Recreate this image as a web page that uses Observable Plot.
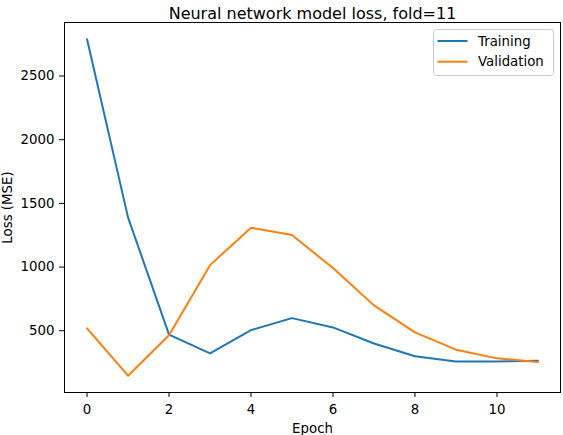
<!DOCTYPE html>
<html><head><meta charset="utf-8">
<script src="https://cdn.jsdelivr.net/npm/d3@7"></script>
<script src="https://cdn.jsdelivr.net/npm/@observablehq/plot@0.6"></script>
<style>
body{margin:0;background:#fff;}
#chart{position:relative;width:563px;height:435px;font-family:"DejaVu Sans",sans-serif;}
#legend{position:absolute;left:433px;top:29px;}
</style></head><body><div id="chart"></div>
<script>
const epochs = [0,1,2,3,4,5,6,7,8,9,10,11];
const training = [2788,1390,469,322,505,599,526,400,300,259,259,264];
const validation = [518,147,465,1015,1309,1251,992,699,487,351,283,254];
const seriesNames = ["Training","Validation"];
const seriesColors = ["#1f77b4","#ff7f0e"];
const xTicks = [0,2,4,6,8,10];
const yTicks = [500,1000,1500,2000,2500];
const titleText = "Neural network model loss, fold=11";
const xLabel = "Epoch";
const yLabel = "Loss (MSE)";

const rows = [];
epochs.forEach((e,i)=>{
  rows.push({epoch:e, loss:training[i], series:seriesNames[0]});
  rows.push({epoch:e, loss:validation[i], series:seriesNames[1]});
});
const all = training.concat(validation);
const lo = d3.min(all), hi = d3.max(all), pad = (hi-lo)*0.05;
const xlo = d3.min(epochs), xhi = d3.max(epochs), xpad = (xhi-xlo)*0.05;

const plot = Plot.plot({
  width:563, height:435, marginLeft:64, marginRight:3, marginTop:22, marginBottom:43,
  style:{fontFamily:"DejaVu Sans", fontSize:"13.33px", background:"white", color:"black", overflow:"visible"},
  x:{domain:[xlo-xpad, xhi+xpad], ticks:xTicks, tickFormat:d3.format("d"), label:xLabel, labelAnchor:"center", labelArrow:"none", tickSize:5, tickPadding:7, labelOffset:40},
  y:{domain:[lo-pad, hi+pad], ticks:yTicks, tickFormat:d3.format("d"), label:yLabel, labelAnchor:"center", labelArrow:"none", tickSize:5, tickPadding:5, labelOffset:62},
  color:{domain:seriesNames, range:seriesColors},
  marks:[
    Plot.line(rows, {x:"epoch", y:"loss", stroke:"series", strokeWidth:2}),
    Plot.frame({stroke:"black", strokeWidth:1}),
    Plot.text([titleText], {text:d=>d, frameAnchor:"top", dy:-15, fontSize:16})
  ]
});
const chart = document.getElementById("chart");
chart.appendChild(plot);

// legend
const lg = d3.select(chart).append("svg").attr("id","legend").attr("width",122).attr("height",48);
lg.append("rect").attr("x",0.5).attr("y",0.5).attr("width",120).attr("height",46).attr("rx",3)
  .attr("fill","rgba(255,255,255,0.8)").attr("stroke","#cccccc");
seriesNames.forEach((name,i)=>{
  const cy = 12 + i*20.7;
  lg.append("line").attr("x1",4.5).attr("x2",34.5).attr("y1",cy).attr("y2",cy)
    .attr("stroke",seriesColors[i]).attr("stroke-width",2);
  lg.append("text").attr("x",45).attr("y",cy).attr("dy","0.35em")
    .attr("font-family","DejaVu Sans").attr("font-size","13.33px").attr("fill","black").text(name);
});
</script></body></html>
